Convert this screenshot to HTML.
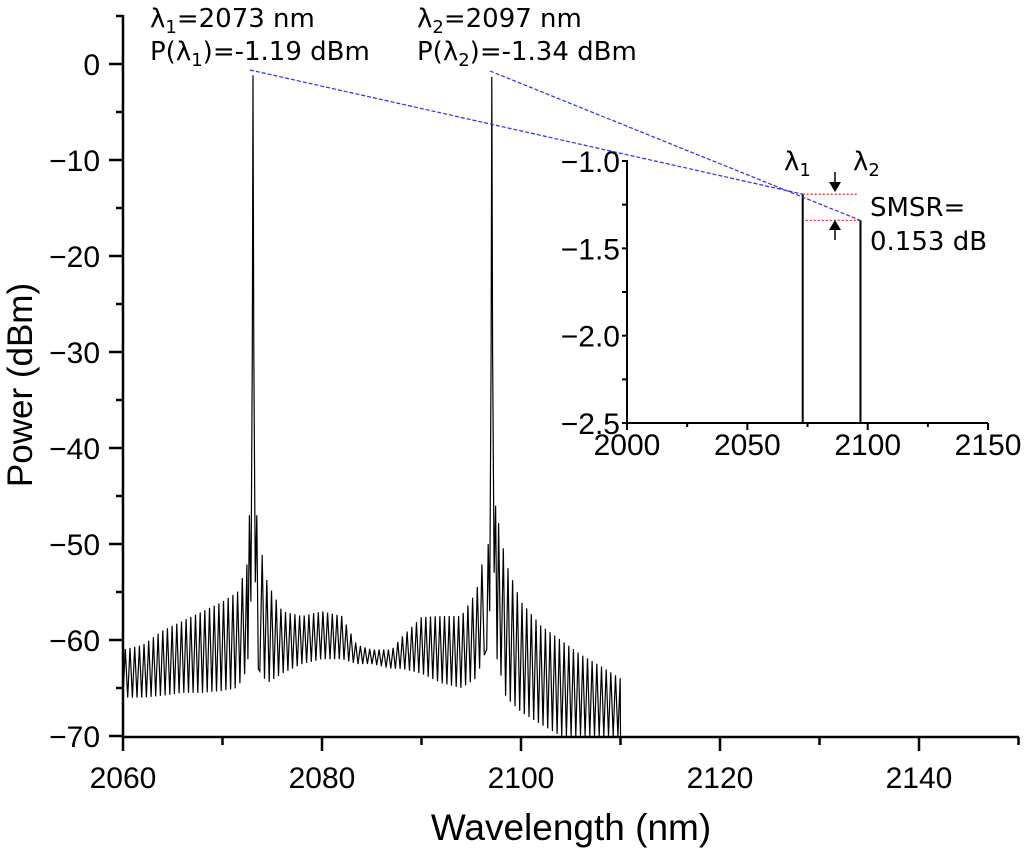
<!DOCTYPE html>
<html><head><meta charset="utf-8"><style>
html,body{margin:0;padding:0;background:#fff}
svg{display:block;font-family:"Liberation Sans","DejaVu Sans",sans-serif}
.dv{font-family:"DejaVu Sans","Liberation Sans",sans-serif}
</style></head><body>
<svg id="chart" width="1025" height="856" viewBox="0 0 1025 856"></svg>
<script>
// ---- data ----
const fringeSpacing = 0.47;
const envWl = [2060,2062,2064,2066,2068,2070,2071.5,2072.5,2073.6,2074.5,2076,2078,2080,2082,2083.5,2085,2087,2088,2090,2092,2094,2095.5,2096.5,2097.6,2098.5,2100,2102,2104,2106,2108,2110];
const envHi = [-61,-60.5,-59,-58,-57,-56,-55,-52,-49,-54,-57,-57.5,-57,-57.5,-60.5,-61,-61,-59.7,-57.6,-57.5,-57.5,-55,-50,-47,-52,-56,-58.5,-60,-61.5,-62.7,-64];
const envLo = [-66,-66,-65.8,-65.5,-65.5,-65.3,-65,-63,-63,-64.5,-63.5,-62.5,-62,-62,-62.5,-62.5,-63,-63,-63.5,-64.5,-65,-64,-61,-62,-66,-67.5,-68.8,-70,-70,-70,-70];
const peak1Wl = [2072.55,2072.7,2072.85,2073.0,2073.07,2073.15,2073.3,2073.45,2073.6];
const peak1P = [-62,-47,-56,-30,-1.19,-30,-54,-47,-63];
const peak2Wl = [2096.55,2096.7,2096.85,2097.0,2097.07,2097.15,2097.3,2097.45,2097.6];
const peak2P = [-61,-50,-57,-30,-1.34,-30,-53,-46,-62];
const xTicks = [2060,2080,2100,2120,2140];
const yTicks = [0,-10,-20,-30,-40,-50,-60,-70];
const insetWl = [2073,2097];
const insetP = [-1.19,-1.34];
const insetXTicks = [2000,2050,2100,2150];
const insetYTicks = [-1.0,-1.5,-2.0,-2.5];

// ---- scales ----
const xs = w => 123 + (w-2060)*9.95;
const ys = v => 64 - v*9.6;
const ixs = w => 627 + (w-2000)*2.407;
const iys = v => 161 - (v+1.0)*174.7;

const svg = document.getElementById('chart');
const NS = 'http://www.w3.org/2000/svg';
function mk(tag, attrs, parent){const e=document.createElementNS(NS,tag);for(const k in attrs)e.setAttribute(k,attrs[k]);(parent||svg).appendChild(e);return e;}
function interp(w, arr){for(let i=0;i<envWl.length-1;i++){if(w>=envWl[i]&&w<=envWl[i+1]){const t=(w-envWl[i])/(envWl[i+1]-envWl[i]);return arr[i]+t*(arr[i+1]-arr[i]);}}return arr[arr.length-1];}

// ---- spectrum ----
const pts=[];
let k=0;
function addFringes(a,b){for(let w=a;w<=b;w+=fringeSpacing/2){const v=(k%2===0)?interp(w,envLo):interp(w,envHi);pts.push([w,Math.max(-70,v)]);k++;}}
addFringes(2060,2072.5);
peak1Wl.forEach((w,i)=>pts.push([w,peak1P[i]]));
addFringes(2073.75,2096.5);
peak2Wl.forEach((w,i)=>pts.push([w,peak2P[i]]));
addFringes(2097.75,2110);
pts.push([2110,-70]);
const spec = mk('path',{d:'M'+pts.map(p=>xs(p[0]).toFixed(1)+','+ys(p[1]).toFixed(1)).join('L'),fill:'none',stroke:'#000','stroke-width':1.2});



// ---- main axes ----
const ax = mk('g',{});


mk('line',{x1:123,y1:15,x2:123,y2:738,stroke:'#000','stroke-width':2.5},ax);
mk('line',{x1:122,y1:737,x2:1019,y2:737,stroke:'#000','stroke-width':2.5},ax);
for(let w=2060;w<=2150;w+=10){const major=xTicks.includes(w);mk('line',{x1:xs(w),y1:737,x2:xs(w),y2:major?751:745,stroke:'#000','stroke-width':2.5},ax);}
xTicks.forEach(w=>{const t=mk('text',{x:xs(w),y:788,'font-size':30,'text-anchor':'middle'},ax);t.textContent=w;});
for(let v=5;v>=-70;v-=5){const major=yTicks.includes(v);mk('line',{x1:major?109:116,y1:ys(v),x2:123,y2:ys(v),stroke:'#000','stroke-width':2.5},ax);}
yTicks.forEach(v=>{const t=mk('text',{x:100,y:ys(v)+11,'font-size':30,'text-anchor':'end'},ax);t.textContent=v===0?'0':'\u2212'+Math.abs(v);});
const xt=mk('text',{x:571,y:840,'font-size':37,'text-anchor':'middle'});xt.textContent='Wavelength (nm)';


const yt=mk('text',{x:0,y:0,'font-size':35,'text-anchor':'middle',transform:'translate(32,385) rotate(-90)'});yt.textContent='Power (dBm)';



// ---- peak annotations ----
function ann(x,y,l,sub,txt2,name){const g=mk('g',{class:'dv'});
 const a=mk('text',{x:x,y:y,'font-size':26},g);a.innerHTML='λ<tspan font-size="18" dy="6">'+sub+'</tspan><tspan dy="-6">='+l+'</tspan>';
 const b=mk('text',{x:x,y:y+33,'font-size':26},g);b.innerHTML='P(λ<tspan font-size="18" dy="6">'+sub+'</tspan><tspan dy="-6">)='+txt2+'</tspan>';}
ann(150,27,'2073 nm','1','-1.19 dBm','peak1-annotation');
ann(417,27,'2097 nm','2','-1.34 dBm','peak2-annotation');

// ---- inset ----
const ins=mk('g',{});


mk('line',{x1:627,y1:160,x2:627,y2:424,stroke:'#000','stroke-width':2},ins);
mk('line',{x1:626,y1:423,x2:988,y2:423,stroke:'#000','stroke-width':2},ins);
for(let w=2000;w<=2150;w+=25){const major=insetXTicks.includes(w);mk('line',{x1:ixs(w),y1:423,x2:ixs(w),y2:major?430:427,stroke:'#000','stroke-width':2},ins);}
insetXTicks.forEach(w=>{const t=mk('text',{x:ixs(w),y:455,'font-size':30,'text-anchor':'middle'},ins);t.textContent=w;});
for(let v=-1.0;v>=-2.51;v-=0.25){mk('line',{x1:622,y1:iys(v),x2:627,y2:iys(v),stroke:'#000','stroke-width':2},ins);}
insetYTicks.forEach(v=>{const t=mk('text',{x:620,y:iys(v)+11,'font-size':30,'text-anchor':'end'},ins);t.textContent='\u2212'+Math.abs(v).toFixed(1);});
insetWl.forEach((w,i)=>{const l=mk('line',{x1:ixs(w),y1:iys(insetP[i]),x2:ixs(w),y2:423,stroke:'#000','stroke-width':2},ins);});
// red dotted
mk('line',{x1:ixs(2073),y1:iys(insetP[0]),x2:ixs(2073)+56,y2:iys(insetP[0]),stroke:'#e0302a','stroke-width':1.3,'stroke-dasharray':'2,2'},ins);
mk('line',{x1:ixs(2073)+3,y1:iys(insetP[1]),x2:ixs(2097),y2:iys(insetP[1]),stroke:'#e0302a','stroke-width':1.3,'stroke-dasharray':'2,2'},ins);
// arrows
mk('line',{x1:835,y1:172,x2:835,y2:184,stroke:'#000','stroke-width':1.5},ins);
mk('polygon',{points:'829,182 841,182 835,192',fill:'#000'},ins);
mk('line',{x1:835,y1:228,x2:835,y2:240,stroke:'#000','stroke-width':1.5},ins);
mk('polygon',{points:'829,230 841,230 835,220',fill:'#000'},ins);
const l1=mk('text',{x:784,y:170,'font-size':26,class:'dv'},ins);l1.innerHTML='λ<tspan font-size="18" dy="6">1</tspan>';
const l2=mk('text',{x:853,y:170,'font-size':26,class:'dv'},ins);l2.innerHTML='λ<tspan font-size="18" dy="6">2</tspan>';
const s1=mk('text',{x:870,y:216,'font-size':26,class:'dv'},ins);s1.textContent='SMSR=';
const s2=mk('text',{x:870,y:250,'font-size':26,class:'dv'},ins);s2.textContent='0.153 dB';



// ---- blue connector dashes ----
const c1=mk('line',{x1:250,y1:70,x2:ixs(2073),y2:iys(insetP[0]),stroke:'#3030e0','stroke-width':1.2,'stroke-dasharray':'4,2'});


const c2=mk('line',{x1:490,y1:71,x2:ixs(2097),y2:iys(insetP[1]),stroke:'#3030e0','stroke-width':1.2,'stroke-dasharray':'4,2'});


</script>
</body></html>
